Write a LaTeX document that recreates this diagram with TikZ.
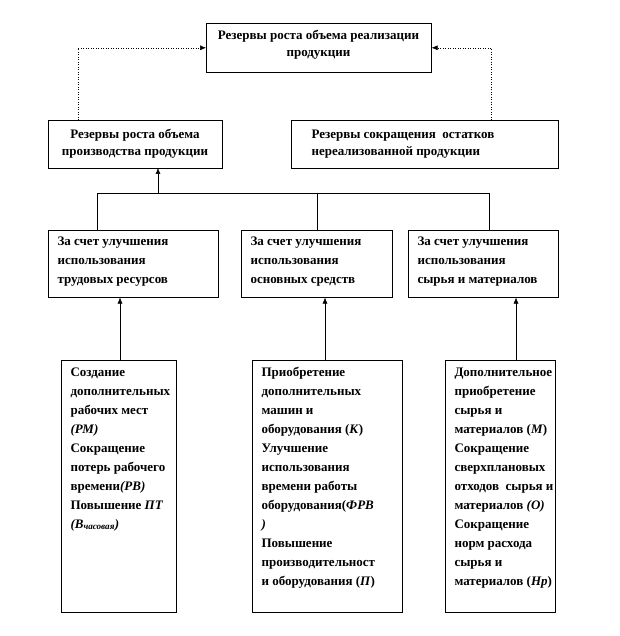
\documentclass[tikz,border=0pt]{standalone}
\usepackage{fontspec}
\usetikzlibrary{arrows.meta}
\setmainfont{Liberation Serif}
\begin{document}
\begin{tikzpicture}[x=1pt,y=-1pt,
 bx/.style={draw,line width=0.6pt,inner sep=0pt},
 tx/.style={font=\bfseries\fontsize{13}{19}\selectfont,align=left,anchor=north west},
 hd/.style={font=\bfseries\fontsize{13}{17}\selectfont},
 ar/.style={-{Latex[length=6pt,width=5pt]},line width=0.5pt}]
\useasboundingbox (0,0) rectangle (619,636);
% top
\node[bx,minimum width=225,minimum height=49,anchor=north west] (top) at (206,23) {};
\node[hd,align=center] at (318.5,45) {Резервы роста объема реализации\\продукции};
\node[bx,minimum width=174,minimum height=48,anchor=north west] (L) at (48,120) {};
\node[hd,align=center] at (135,144) {Резервы роста объема\\производства продукции};
\node[bx,minimum width=267,minimum height=48,anchor=north west] (R) at (291,120) {};
\node[hd,align=left,anchor=west] at (308,144) {Резервы сокращения\ \ остатков\\нереализованной продукции};
\draw[ar,dotted] (78,120) |- (top.west);
\draw[ar,dotted] (491,120) |- (top.east);
% middle
\node[bx,minimum width=170,minimum height=67,anchor=north west] (m1) at (48,230) {};
\node[bx,minimum width=151,minimum height=67,anchor=north west] (m2) at (241,230) {};
\node[bx,minimum width=150,minimum height=67,anchor=north west] (m3) at (408,230) {};
\node[tx] at (54,233) {За счет улучшения\\использования\\трудовых ресурсов};
\node[tx] at (247,233) {За счет улучшения\\использования\\основных средств};
\node[tx] at (414,233) {За счет улучшения\\использования\\сырья и материалов};
\coordinate (hl) at (97,193);
\coordinate (hr) at (489,193);
\draw (m1.north -| hl) -- (hl) -- (hr) -- (m3.north -| hr);
\draw (m2.north) -- (m2.north |- hl);
\draw[ar] (158,193) -- (158,168);
% bottom
\node[bx,minimum width=115,minimum height=252,anchor=north west] (b1) at (61,360) {};
\node[bx,minimum width=150,minimum height=252,anchor=north west] (b2) at (252,360) {};
\node[bx,minimum width=110,minimum height=252,anchor=north west] (b3) at (445,360) {};
\node[tx] at (67,364) {Создание\\дополнительных\\рабочих мест\\\textit{(РМ)}\\Сокращение\\потерь рабочего\\времени\textit{(РВ)}\\Повышение \textit{ПТ}\\\textit{(В\textsubscript{часовая})}};
\node[tx] at (258,364) {Приобретение\\дополнительных\\машин и\\оборудования (\textit{К})\\Улучшение\\использования\\времени работы\\оборудования(\textit{ФРВ}\\\textit{)}\\Повышение\\производительност\\и оборудования (\textit{П})};
\node[tx] at (451,364) {Дополнительное\\приобретение\\сырья и\\материалов (\textit{М})\\Сокращение\\сверхплановых\\отходов\ \ сырья и\\материалов \textit{(О)}\\Сокращение\\норм расхода\\сырья и\\материалов (\textit{Нр})};
\draw[ar] (b1.north -| 120,0) -- (m1.south -| 120,0);
\draw[ar] (b2.north -| 325,0) -- (m2.south -| 325,0);
\draw[ar] (b3.north -| 516,0) -- (m3.south -| 516,0);
\end{tikzpicture}
\end{document}
